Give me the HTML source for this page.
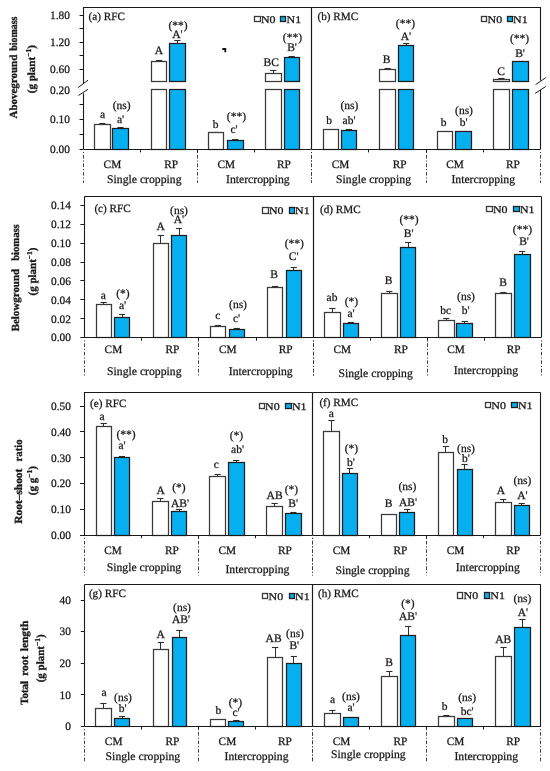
<!DOCTYPE html>
<html><head><meta charset="utf-8"><style>
text{stroke:#111;stroke-width:0.25px;text-rendering:geometricPrecision}
html,body{margin:0;padding:0;background:#fff;width:550px;height:771px;overflow:hidden}
svg{display:block;filter:blur(0.28px)}
text{font-family:"Liberation Serif",serif}
</style></head><body>
<svg width="550" height="771" viewBox="0 0 550 771" font-family="Liberation Serif, serif" fill="#1a1a1a">
<rect x="0" y="0" width="550" height="771" fill="#fff"/>
<line x1="102.50" y1="123.40" x2="102.50" y2="124.60" stroke="#2e2e2e" stroke-width="1.0" />
<line x1="99.30" y1="123.50" x2="105.50" y2="123.50" stroke="#2e2e2e" stroke-width="1.1" />
<rect x="94.50" y="124.50" width="16.00" height="25.00" fill="#fff" stroke="#3a3a3a" stroke-width="1.25"/>
<line x1="120.50" y1="127.60" x2="120.50" y2="128.50" stroke="#2e2e2e" stroke-width="1.0" />
<line x1="117.40" y1="127.50" x2="123.60" y2="127.50" stroke="#2e2e2e" stroke-width="1.1" />
<rect x="112.50" y="128.50" width="16.00" height="21.00" fill="#06AFF0" stroke="#1e1e1e" stroke-width="1.25"/>
<line x1="159.50" y1="60.60" x2="159.50" y2="61.60" stroke="#2e2e2e" stroke-width="1.0" />
<line x1="156.00" y1="60.50" x2="162.20" y2="60.50" stroke="#2e2e2e" stroke-width="1.1" />
<rect x="151.50" y="61.50" width="15.00" height="20.00" fill="#fff" stroke="#3a3a3a" stroke-width="1.25"/>
<rect x="151.50" y="89.50" width="15.00" height="60.00" fill="#fff" stroke="#3a3a3a" stroke-width="1.25"/>
<line x1="177.50" y1="40.00" x2="177.50" y2="43.60" stroke="#2e2e2e" stroke-width="1.0" />
<line x1="174.30" y1="40.50" x2="180.50" y2="40.50" stroke="#2e2e2e" stroke-width="1.1" />
<rect x="169.50" y="43.50" width="16.00" height="38.00" fill="#06AFF0" stroke="#1e1e1e" stroke-width="1.25"/>
<rect x="169.50" y="89.50" width="16.00" height="60.00" fill="#06AFF0" stroke="#1e1e1e" stroke-width="1.25"/>
<line x1="215.50" y1="132.20" x2="215.50" y2="132.70" stroke="#2e2e2e" stroke-width="1.0" />
<line x1="212.85" y1="132.50" x2="219.05" y2="132.50" stroke="#2e2e2e" stroke-width="1.1" />
<rect x="208.50" y="132.50" width="15.00" height="17.00" fill="#fff" stroke="#3a3a3a" stroke-width="1.25"/>
<line x1="235.50" y1="139.00" x2="235.50" y2="140.00" stroke="#2e2e2e" stroke-width="1.0" />
<line x1="232.10" y1="139.50" x2="238.30" y2="139.50" stroke="#2e2e2e" stroke-width="1.1" />
<rect x="227.50" y="140.50" width="16.00" height="9.00" fill="#06AFF0" stroke="#1e1e1e" stroke-width="1.25"/>
<line x1="273.50" y1="70.80" x2="273.50" y2="73.60" stroke="#2e2e2e" stroke-width="1.0" />
<line x1="270.20" y1="70.50" x2="276.40" y2="70.50" stroke="#2e2e2e" stroke-width="1.1" />
<rect x="265.50" y="73.50" width="16.00" height="8.00" fill="#fff" stroke="#3a3a3a" stroke-width="1.25"/>
<rect x="265.50" y="89.50" width="16.00" height="60.00" fill="#fff" stroke="#3a3a3a" stroke-width="1.25"/>
<line x1="291.50" y1="56.40" x2="291.50" y2="57.40" stroke="#2e2e2e" stroke-width="1.0" />
<line x1="288.60" y1="56.50" x2="294.80" y2="56.50" stroke="#2e2e2e" stroke-width="1.1" />
<rect x="284.50" y="57.50" width="15.00" height="24.00" fill="#06AFF0" stroke="#1e1e1e" stroke-width="1.25"/>
<rect x="284.50" y="89.50" width="15.00" height="60.00" fill="#06AFF0" stroke="#1e1e1e" stroke-width="1.25"/>
<line x1="83.50" y1="7.50" x2="311.50" y2="7.50" stroke="#1a1a1a" stroke-width="1.1" />
<line x1="311.50" y1="7.00" x2="311.50" y2="149.20" stroke="#1a1a1a" stroke-width="1.1" />
<line x1="83.50" y1="149.50" x2="311.50" y2="149.50" stroke="#1a1a1a" stroke-width="1.1" />
<line x1="140.50" y1="149.20" x2="140.50" y2="152.40" stroke="#1a1a1a" stroke-width="1.0" />
<line x1="197.50" y1="149.20" x2="197.50" y2="152.40" stroke="#1a1a1a" stroke-width="1.0" />
<line x1="254.50" y1="149.20" x2="254.50" y2="152.40" stroke="#1a1a1a" stroke-width="1.0" />
<line x1="83.50" y1="152.00" x2="83.50" y2="183.00" stroke="#3a3a3a" stroke-width="0.95" stroke-dasharray="1.2 1.8 3.6 1.9"/>
<line x1="197.50" y1="152.00" x2="197.50" y2="183.00" stroke="#3a3a3a" stroke-width="0.95" stroke-dasharray="1.2 1.8 3.6 1.9"/>
<line x1="311.50" y1="152.00" x2="311.50" y2="183.00" stroke="#3a3a3a" stroke-width="0.95" stroke-dasharray="1.2 1.8 3.6 1.9"/>
<text x="112.40" y="167.60" font-size="11.3" text-anchor="middle" font-weight="normal" >CM</text>
<text x="171.20" y="167.60" font-size="11.3" text-anchor="middle" font-weight="normal" >RP</text>
<text x="226.30" y="167.60" font-size="11.3" text-anchor="middle" font-weight="normal" >CM</text>
<text x="283.90" y="167.60" font-size="11.3" text-anchor="middle" font-weight="normal" >RP</text>
<text x="107.00" y="183.30" font-size="11.7" text-anchor="start" font-weight="normal" textLength="74.5" lengthAdjust="spacing">Single cropping</text>
<text x="226.00" y="183.30" font-size="11.7" text-anchor="start" font-weight="normal" textLength="63.6" lengthAdjust="spacing">Intercropping</text>
<line x1="83.50" y1="7.00" x2="83.50" y2="83.50" stroke="#1a1a1a" stroke-width="1.1" />
<line x1="83.50" y1="93.30" x2="83.50" y2="149.20" stroke="#1a1a1a" stroke-width="1.1" />
<line x1="79.50" y1="15.50" x2="83.50" y2="15.50" stroke="#1a1a1a" stroke-width="1.0" />
<text x="70.00" y="19.30" font-size="11.4" text-anchor="end" font-weight="normal" >1.80</text>
<line x1="79.50" y1="42.50" x2="83.50" y2="42.50" stroke="#1a1a1a" stroke-width="1.0" />
<text x="70.00" y="46.10" font-size="11.4" text-anchor="end" font-weight="normal" >1.20</text>
<line x1="79.50" y1="69.50" x2="83.50" y2="69.50" stroke="#1a1a1a" stroke-width="1.0" />
<text x="70.00" y="72.90" font-size="11.4" text-anchor="end" font-weight="normal" >0.60</text>
<line x1="79.50" y1="119.50" x2="83.50" y2="119.50" stroke="#1a1a1a" stroke-width="1.0" />
<text x="70.00" y="123.40" font-size="11.4" text-anchor="end" font-weight="normal" >0.10</text>
<line x1="79.50" y1="149.50" x2="83.50" y2="149.50" stroke="#1a1a1a" stroke-width="1.0" />
<text x="70.00" y="153.10" font-size="11.4" text-anchor="end" font-weight="normal" >0.00</text>
<text x="70.00" y="94.20" font-size="11.4" text-anchor="end" font-weight="normal" >0.20</text>
<line x1="79.50" y1="28.50" x2="83.50" y2="28.50" stroke="#1a1a1a" stroke-width="1.0" />
<line x1="79.50" y1="55.50" x2="83.50" y2="55.50" stroke="#1a1a1a" stroke-width="1.0" />
<line x1="79.50" y1="104.50" x2="83.50" y2="104.50" stroke="#1a1a1a" stroke-width="1.0" />
<line x1="79.50" y1="134.50" x2="83.50" y2="134.50" stroke="#1a1a1a" stroke-width="1.0" />
<text x="88.60" y="20.30" font-size="11.2" text-anchor="start" font-weight="normal" >(a) RFC</text>
<rect x="254.50" y="16.50" width="6.00" height="5.00" fill="#fff" stroke="#3a3a3a" stroke-width="1.3"/>
<text x="260.90" y="22.60" font-size="10.2" text-anchor="start" font-weight="normal" textLength="14.6" lengthAdjust="spacingAndGlyphs">N0</text>
<rect x="280.50" y="16.50" width="5.00" height="5.00" fill="#06AFF0" stroke="#1e1e1e" stroke-width="1.3"/>
<text x="286.50" y="22.60" font-size="10.2" text-anchor="start" font-weight="normal" textLength="14.6" lengthAdjust="spacingAndGlyphs">N1</text>
<text x="102.60" y="117.60" font-size="11.5" text-anchor="middle" font-weight="normal" >a</text>
<text x="120.60" y="123.00" font-size="11.5" text-anchor="middle" font-weight="normal" >a'</text>
<text x="121.60" y="108.60" font-size="11.5" text-anchor="middle" font-weight="normal" >(ns)</text>
<text x="159.00" y="54.40" font-size="11.5" text-anchor="middle" font-weight="normal" >A</text>
<text x="177.40" y="38.00" font-size="11.5" text-anchor="middle" font-weight="normal" >A'</text>
<text x="178.00" y="28.60" font-size="11.5" text-anchor="middle" font-weight="normal" >(**)</text>
<text x="215.70" y="127.70" font-size="11.5" text-anchor="middle" font-weight="normal" >b</text>
<text x="234.00" y="133.20" font-size="11.5" text-anchor="middle" font-weight="normal" >c'</text>
<text x="236.40" y="120.10" font-size="11.5" text-anchor="middle" font-weight="normal" >(**)</text>
<text x="271.20" y="66.00" font-size="11.5" text-anchor="middle" font-weight="normal" >BC</text>
<text x="292.00" y="51.00" font-size="11.5" text-anchor="middle" font-weight="normal" >B'</text>
<text x="292.40" y="40.60" font-size="11.5" text-anchor="middle" font-weight="normal" >(**)</text>
<rect x="323.50" y="129.50" width="15.00" height="20.00" fill="#fff" stroke="#3a3a3a" stroke-width="1.25"/>
<line x1="348.50" y1="129.40" x2="348.50" y2="130.00" stroke="#2e2e2e" stroke-width="1.0" />
<line x1="345.80" y1="129.50" x2="352.00" y2="129.50" stroke="#2e2e2e" stroke-width="1.1" />
<rect x="341.50" y="130.50" width="15.00" height="19.00" fill="#06AFF0" stroke="#1e1e1e" stroke-width="1.25"/>
<line x1="387.50" y1="68.00" x2="387.50" y2="69.60" stroke="#2e2e2e" stroke-width="1.0" />
<line x1="384.55" y1="68.50" x2="390.75" y2="68.50" stroke="#2e2e2e" stroke-width="1.1" />
<rect x="379.50" y="69.50" width="16.00" height="12.00" fill="#fff" stroke="#3a3a3a" stroke-width="1.25"/>
<rect x="379.50" y="89.50" width="16.00" height="60.00" fill="#fff" stroke="#3a3a3a" stroke-width="1.25"/>
<line x1="406.50" y1="43.60" x2="406.50" y2="45.00" stroke="#2e2e2e" stroke-width="1.0" />
<line x1="403.05" y1="43.50" x2="409.25" y2="43.50" stroke="#2e2e2e" stroke-width="1.1" />
<rect x="398.50" y="45.50" width="15.00" height="36.00" fill="#06AFF0" stroke="#1e1e1e" stroke-width="1.25"/>
<rect x="398.50" y="89.50" width="15.00" height="60.00" fill="#06AFF0" stroke="#1e1e1e" stroke-width="1.25"/>
<line x1="445.50" y1="131.20" x2="445.50" y2="131.60" stroke="#2e2e2e" stroke-width="1.0" />
<line x1="441.90" y1="131.50" x2="448.10" y2="131.50" stroke="#2e2e2e" stroke-width="1.1" />
<rect x="437.50" y="131.50" width="15.00" height="18.00" fill="#fff" stroke="#3a3a3a" stroke-width="1.25"/>
<line x1="463.50" y1="131.20" x2="463.50" y2="131.60" stroke="#2e2e2e" stroke-width="1.0" />
<line x1="460.30" y1="131.50" x2="466.50" y2="131.50" stroke="#2e2e2e" stroke-width="1.1" />
<rect x="455.50" y="131.50" width="16.00" height="18.00" fill="#06AFF0" stroke="#1e1e1e" stroke-width="1.25"/>
<line x1="501.50" y1="78.60" x2="501.50" y2="79.00" stroke="#2e2e2e" stroke-width="1.0" />
<line x1="498.30" y1="78.50" x2="504.50" y2="78.50" stroke="#2e2e2e" stroke-width="1.1" />
<rect x="493.50" y="79.50" width="16.00" height="2.00" fill="#fff" stroke="#3a3a3a" stroke-width="1.25"/>
<rect x="493.50" y="89.50" width="16.00" height="60.00" fill="#fff" stroke="#3a3a3a" stroke-width="1.25"/>
<line x1="520.50" y1="61.00" x2="520.50" y2="61.50" stroke="#2e2e2e" stroke-width="1.0" />
<line x1="517.50" y1="61.50" x2="523.70" y2="61.50" stroke="#2e2e2e" stroke-width="1.1" />
<rect x="512.50" y="61.50" width="16.00" height="20.00" fill="#06AFF0" stroke="#1e1e1e" stroke-width="1.25"/>
<rect x="512.50" y="89.50" width="16.00" height="60.00" fill="#06AFF0" stroke="#1e1e1e" stroke-width="1.25"/>
<line x1="311.50" y1="7.50" x2="540.60" y2="7.50" stroke="#1a1a1a" stroke-width="1.1" />
<line x1="540.50" y1="7.00" x2="540.50" y2="149.20" stroke="#1a1a1a" stroke-width="1.1" />
<line x1="311.50" y1="149.50" x2="540.60" y2="149.50" stroke="#1a1a1a" stroke-width="1.1" />
<line x1="368.50" y1="149.20" x2="368.50" y2="152.40" stroke="#1a1a1a" stroke-width="1.0" />
<line x1="426.50" y1="149.20" x2="426.50" y2="152.40" stroke="#1a1a1a" stroke-width="1.0" />
<line x1="483.50" y1="149.20" x2="483.50" y2="152.40" stroke="#1a1a1a" stroke-width="1.0" />
<line x1="311.50" y1="152.00" x2="311.50" y2="183.00" stroke="#3a3a3a" stroke-width="0.95" stroke-dasharray="1.2 1.8 3.6 1.9"/>
<line x1="426.50" y1="152.00" x2="426.50" y2="183.00" stroke="#3a3a3a" stroke-width="0.95" stroke-dasharray="1.2 1.8 3.6 1.9"/>
<line x1="540.50" y1="152.00" x2="540.50" y2="183.00" stroke="#3a3a3a" stroke-width="0.95" stroke-dasharray="1.2 1.8 3.6 1.9"/>
<text x="340.54" y="167.60" font-size="11.3" text-anchor="middle" font-weight="normal" >CM</text>
<text x="399.61" y="167.60" font-size="11.3" text-anchor="middle" font-weight="normal" >RP</text>
<text x="454.99" y="167.60" font-size="11.3" text-anchor="middle" font-weight="normal" >CM</text>
<text x="512.86" y="167.60" font-size="11.3" text-anchor="middle" font-weight="normal" >RP</text>
<text x="336.00" y="183.30" font-size="11.7" text-anchor="start" font-weight="normal" textLength="75" lengthAdjust="spacing">Single cropping</text>
<text x="451.40" y="183.30" font-size="11.7" text-anchor="start" font-weight="normal" textLength="63.6" lengthAdjust="spacing">Intercropping</text>
<line x1="311.50" y1="7.00" x2="311.50" y2="149.20" stroke="#1a1a1a" stroke-width="1.1" />
<text x="317.50" y="20.30" font-size="11.2" text-anchor="start" font-weight="normal" >(b) RMC</text>
<rect x="481.50" y="16.50" width="5.00" height="5.00" fill="#fff" stroke="#3a3a3a" stroke-width="1.3"/>
<text x="487.50" y="22.60" font-size="10.2" text-anchor="start" font-weight="normal" textLength="14.6" lengthAdjust="spacingAndGlyphs">N0</text>
<rect x="507.50" y="16.50" width="5.00" height="5.00" fill="#06AFF0" stroke="#1e1e1e" stroke-width="1.3"/>
<text x="513.10" y="22.60" font-size="10.2" text-anchor="start" font-weight="normal" textLength="14.6" lengthAdjust="spacingAndGlyphs">N1</text>
<text x="329.00" y="124.00" font-size="11.5" text-anchor="middle" font-weight="normal" >b</text>
<text x="349.00" y="124.00" font-size="11.5" text-anchor="middle" font-weight="normal" >ab'</text>
<text x="349.40" y="108.60" font-size="11.5" text-anchor="middle" font-weight="normal" >(ns)</text>
<text x="386.60" y="63.00" font-size="11.5" text-anchor="middle" font-weight="normal" >B</text>
<text x="406.00" y="40.00" font-size="11.5" text-anchor="middle" font-weight="normal" >A'</text>
<text x="405.40" y="26.60" font-size="11.5" text-anchor="middle" font-weight="normal" >(**)</text>
<text x="443.60" y="126.00" font-size="11.5" text-anchor="middle" font-weight="normal" >b</text>
<text x="463.60" y="126.00" font-size="11.5" text-anchor="middle" font-weight="normal" >b'</text>
<text x="464.00" y="113.60" font-size="11.5" text-anchor="middle" font-weight="normal" >(ns)</text>
<text x="501.00" y="75.00" font-size="11.5" text-anchor="middle" font-weight="normal" >C</text>
<text x="520.00" y="57.00" font-size="11.5" text-anchor="middle" font-weight="normal" >B'</text>
<text x="519.60" y="41.60" font-size="11.5" text-anchor="middle" font-weight="normal" >(**)</text>
<line x1="103.50" y1="302.60" x2="103.50" y2="304.40" stroke="#2e2e2e" stroke-width="1.0" />
<line x1="100.60" y1="302.50" x2="106.80" y2="302.50" stroke="#2e2e2e" stroke-width="1.1" />
<rect x="96.50" y="304.50" width="15.00" height="33.00" fill="#fff" stroke="#3a3a3a" stroke-width="1.25"/>
<line x1="122.50" y1="314.60" x2="122.50" y2="317.40" stroke="#2e2e2e" stroke-width="1.0" />
<line x1="118.90" y1="314.50" x2="125.10" y2="314.50" stroke="#2e2e2e" stroke-width="1.1" />
<rect x="114.50" y="317.50" width="15.00" height="20.00" fill="#06AFF0" stroke="#1e1e1e" stroke-width="1.25"/>
<line x1="160.50" y1="235.00" x2="160.50" y2="243.60" stroke="#2e2e2e" stroke-width="1.0" />
<line x1="157.80" y1="235.50" x2="164.00" y2="235.50" stroke="#2e2e2e" stroke-width="1.1" />
<rect x="153.50" y="243.50" width="15.00" height="94.00" fill="#fff" stroke="#3a3a3a" stroke-width="1.25"/>
<line x1="179.50" y1="228.60" x2="179.50" y2="235.00" stroke="#2e2e2e" stroke-width="1.0" />
<line x1="175.90" y1="228.50" x2="182.10" y2="228.50" stroke="#2e2e2e" stroke-width="1.1" />
<rect x="171.50" y="235.50" width="15.00" height="102.00" fill="#06AFF0" stroke="#1e1e1e" stroke-width="1.25"/>
<line x1="217.50" y1="325.50" x2="217.50" y2="326.10" stroke="#2e2e2e" stroke-width="1.0" />
<line x1="214.80" y1="325.50" x2="221.00" y2="325.50" stroke="#2e2e2e" stroke-width="1.1" />
<rect x="210.50" y="326.50" width="15.00" height="11.00" fill="#fff" stroke="#3a3a3a" stroke-width="1.25"/>
<line x1="236.50" y1="328.50" x2="236.50" y2="329.00" stroke="#2e2e2e" stroke-width="1.0" />
<line x1="233.65" y1="328.50" x2="239.85" y2="328.50" stroke="#2e2e2e" stroke-width="1.1" />
<rect x="229.50" y="329.50" width="15.00" height="8.00" fill="#06AFF0" stroke="#1e1e1e" stroke-width="1.25"/>
<line x1="275.50" y1="286.00" x2="275.50" y2="287.70" stroke="#2e2e2e" stroke-width="1.0" />
<line x1="271.95" y1="286.50" x2="278.15" y2="286.50" stroke="#2e2e2e" stroke-width="1.1" />
<rect x="267.50" y="287.50" width="15.00" height="50.00" fill="#fff" stroke="#3a3a3a" stroke-width="1.25"/>
<line x1="293.50" y1="267.20" x2="293.50" y2="270.30" stroke="#2e2e2e" stroke-width="1.0" />
<line x1="290.65" y1="267.50" x2="296.85" y2="267.50" stroke="#2e2e2e" stroke-width="1.1" />
<rect x="286.50" y="270.50" width="15.00" height="67.00" fill="#06AFF0" stroke="#1e1e1e" stroke-width="1.25"/>
<line x1="84.40" y1="196.50" x2="313.30" y2="196.50" stroke="#1a1a1a" stroke-width="1.1" />
<line x1="313.50" y1="196.40" x2="313.50" y2="337.50" stroke="#1a1a1a" stroke-width="1.1" />
<line x1="84.40" y1="337.50" x2="313.30" y2="337.50" stroke="#1a1a1a" stroke-width="1.1" />
<line x1="141.50" y1="337.50" x2="141.50" y2="340.70" stroke="#1a1a1a" stroke-width="1.0" />
<line x1="198.50" y1="337.50" x2="198.50" y2="340.70" stroke="#1a1a1a" stroke-width="1.0" />
<line x1="256.50" y1="337.50" x2="256.50" y2="340.70" stroke="#1a1a1a" stroke-width="1.0" />
<line x1="84.50" y1="340.30" x2="84.50" y2="376.50" stroke="#3a3a3a" stroke-width="0.95" stroke-dasharray="1.2 1.8 3.6 1.9"/>
<line x1="198.50" y1="340.30" x2="198.50" y2="376.50" stroke="#3a3a3a" stroke-width="0.95" stroke-dasharray="1.2 1.8 3.6 1.9"/>
<line x1="313.50" y1="340.30" x2="313.50" y2="376.50" stroke="#3a3a3a" stroke-width="0.95" stroke-dasharray="1.2 1.8 3.6 1.9"/>
<text x="113.41" y="352.50" font-size="11.3" text-anchor="middle" font-weight="normal" >CM</text>
<text x="172.44" y="352.50" font-size="11.3" text-anchor="middle" font-weight="normal" >RP</text>
<text x="227.76" y="352.50" font-size="11.3" text-anchor="middle" font-weight="normal" >CM</text>
<text x="285.59" y="352.50" font-size="11.3" text-anchor="middle" font-weight="normal" >RP</text>
<text x="107.00" y="374.50" font-size="11.7" text-anchor="start" font-weight="normal" textLength="74.5" lengthAdjust="spacing">Single cropping</text>
<text x="228.70" y="375.40" font-size="11.7" text-anchor="start" font-weight="normal" textLength="64" lengthAdjust="spacing">Intercropping</text>
<line x1="84.50" y1="196.40" x2="84.50" y2="337.50" stroke="#1a1a1a" stroke-width="1.1" />
<line x1="80.40" y1="337.50" x2="84.40" y2="337.50" stroke="#1a1a1a" stroke-width="1.0" />
<text x="71.00" y="341.40" font-size="11.4" text-anchor="end" font-weight="normal" >0.00</text>
<line x1="80.40" y1="318.50" x2="84.40" y2="318.50" stroke="#1a1a1a" stroke-width="1.0" />
<text x="71.00" y="322.55" font-size="11.4" text-anchor="end" font-weight="normal" >0.02</text>
<line x1="80.40" y1="299.50" x2="84.40" y2="299.50" stroke="#1a1a1a" stroke-width="1.0" />
<text x="71.00" y="303.70" font-size="11.4" text-anchor="end" font-weight="normal" >0.04</text>
<line x1="80.40" y1="280.50" x2="84.40" y2="280.50" stroke="#1a1a1a" stroke-width="1.0" />
<text x="71.00" y="284.85" font-size="11.4" text-anchor="end" font-weight="normal" >0.06</text>
<line x1="80.40" y1="262.50" x2="84.40" y2="262.50" stroke="#1a1a1a" stroke-width="1.0" />
<text x="71.00" y="266.00" font-size="11.4" text-anchor="end" font-weight="normal" >0.08</text>
<line x1="80.40" y1="243.50" x2="84.40" y2="243.50" stroke="#1a1a1a" stroke-width="1.0" />
<text x="71.00" y="247.15" font-size="11.4" text-anchor="end" font-weight="normal" >0.10</text>
<line x1="80.40" y1="224.50" x2="84.40" y2="224.50" stroke="#1a1a1a" stroke-width="1.0" />
<text x="71.00" y="228.30" font-size="11.4" text-anchor="end" font-weight="normal" >0.12</text>
<line x1="80.40" y1="205.50" x2="84.40" y2="205.50" stroke="#1a1a1a" stroke-width="1.0" />
<text x="71.00" y="209.45" font-size="11.4" text-anchor="end" font-weight="normal" >0.14</text>
<text x="94.40" y="211.60" font-size="11.2" text-anchor="start" font-weight="normal" >(c) RFC</text>
<rect x="262.50" y="207.50" width="6.00" height="6.00" fill="#fff" stroke="#3a3a3a" stroke-width="1.3"/>
<text x="268.90" y="214.10" font-size="10.2" text-anchor="start" font-weight="normal" textLength="14.6" lengthAdjust="spacingAndGlyphs">N0</text>
<rect x="289.50" y="207.50" width="5.00" height="6.00" fill="#06AFF0" stroke="#1e1e1e" stroke-width="1.3"/>
<text x="295.10" y="214.10" font-size="10.2" text-anchor="start" font-weight="normal" textLength="14.6" lengthAdjust="spacingAndGlyphs">N1</text>
<text x="103.40" y="299.00" font-size="11.5" text-anchor="middle" font-weight="normal" >a</text>
<text x="122.60" y="308.60" font-size="11.5" text-anchor="middle" font-weight="normal" >a'</text>
<text x="123.00" y="296.60" font-size="11.5" text-anchor="middle" font-weight="normal" >(*)</text>
<text x="160.60" y="230.00" font-size="11.5" text-anchor="middle" font-weight="normal" >A</text>
<text x="179.00" y="223.00" font-size="11.5" text-anchor="middle" font-weight="normal" >A'</text>
<text x="179.00" y="213.60" font-size="11.5" text-anchor="middle" font-weight="normal" >(ns)</text>
<text x="217.90" y="318.90" font-size="11.5" text-anchor="middle" font-weight="normal" >c</text>
<text x="236.50" y="321.80" font-size="11.5" text-anchor="middle" font-weight="normal" >c'</text>
<text x="238.00" y="308.30" font-size="11.5" text-anchor="middle" font-weight="normal" >(ns)</text>
<text x="274.00" y="277.50" font-size="11.5" text-anchor="middle" font-weight="normal" >B</text>
<text x="293.60" y="260.00" font-size="11.5" text-anchor="middle" font-weight="normal" >C'</text>
<text x="294.30" y="246.50" font-size="11.5" text-anchor="middle" font-weight="normal" >(**)</text>
<line x1="332.50" y1="308.40" x2="332.50" y2="312.20" stroke="#2e2e2e" stroke-width="1.0" />
<line x1="329.25" y1="308.50" x2="335.45" y2="308.50" stroke="#2e2e2e" stroke-width="1.1" />
<rect x="324.50" y="312.50" width="16.00" height="25.00" fill="#fff" stroke="#3a3a3a" stroke-width="1.25"/>
<line x1="350.50" y1="322.00" x2="350.50" y2="323.00" stroke="#2e2e2e" stroke-width="1.0" />
<line x1="347.75" y1="322.50" x2="353.95" y2="322.50" stroke="#2e2e2e" stroke-width="1.1" />
<rect x="343.50" y="323.50" width="15.00" height="14.00" fill="#06AFF0" stroke="#1e1e1e" stroke-width="1.25"/>
<line x1="389.50" y1="291.00" x2="389.50" y2="293.30" stroke="#2e2e2e" stroke-width="1.0" />
<line x1="386.20" y1="291.50" x2="392.40" y2="291.50" stroke="#2e2e2e" stroke-width="1.1" />
<rect x="381.50" y="293.50" width="16.00" height="44.00" fill="#fff" stroke="#3a3a3a" stroke-width="1.25"/>
<line x1="408.50" y1="242.50" x2="408.50" y2="247.20" stroke="#2e2e2e" stroke-width="1.0" />
<line x1="405.00" y1="242.50" x2="411.20" y2="242.50" stroke="#2e2e2e" stroke-width="1.1" />
<rect x="400.50" y="247.50" width="15.00" height="90.00" fill="#06AFF0" stroke="#1e1e1e" stroke-width="1.25"/>
<line x1="446.50" y1="318.40" x2="446.50" y2="320.10" stroke="#2e2e2e" stroke-width="1.0" />
<line x1="443.10" y1="318.50" x2="449.30" y2="318.50" stroke="#2e2e2e" stroke-width="1.1" />
<rect x="438.50" y="320.50" width="16.00" height="17.00" fill="#fff" stroke="#3a3a3a" stroke-width="1.25"/>
<line x1="464.50" y1="321.60" x2="464.50" y2="323.60" stroke="#2e2e2e" stroke-width="1.0" />
<line x1="461.65" y1="321.50" x2="467.85" y2="321.50" stroke="#2e2e2e" stroke-width="1.1" />
<rect x="456.50" y="323.50" width="16.00" height="14.00" fill="#06AFF0" stroke="#1e1e1e" stroke-width="1.25"/>
<line x1="503.50" y1="292.00" x2="503.50" y2="293.60" stroke="#2e2e2e" stroke-width="1.0" />
<line x1="500.35" y1="292.50" x2="506.55" y2="292.50" stroke="#2e2e2e" stroke-width="1.1" />
<rect x="495.50" y="293.50" width="16.00" height="44.00" fill="#fff" stroke="#3a3a3a" stroke-width="1.25"/>
<line x1="522.50" y1="251.00" x2="522.50" y2="254.40" stroke="#2e2e2e" stroke-width="1.0" />
<line x1="519.00" y1="251.50" x2="525.20" y2="251.50" stroke="#2e2e2e" stroke-width="1.1" />
<rect x="514.50" y="254.50" width="16.00" height="83.00" fill="#06AFF0" stroke="#1e1e1e" stroke-width="1.25"/>
<line x1="313.30" y1="196.50" x2="541.20" y2="196.50" stroke="#1a1a1a" stroke-width="1.1" />
<line x1="541.50" y1="196.40" x2="541.50" y2="337.50" stroke="#1a1a1a" stroke-width="1.1" />
<line x1="313.30" y1="337.50" x2="541.20" y2="337.50" stroke="#1a1a1a" stroke-width="1.1" />
<line x1="370.50" y1="337.50" x2="370.50" y2="340.70" stroke="#1a1a1a" stroke-width="1.0" />
<line x1="427.50" y1="337.50" x2="427.50" y2="340.70" stroke="#1a1a1a" stroke-width="1.0" />
<line x1="484.50" y1="337.50" x2="484.50" y2="340.70" stroke="#1a1a1a" stroke-width="1.0" />
<line x1="313.50" y1="340.30" x2="313.50" y2="376.50" stroke="#3a3a3a" stroke-width="0.95" stroke-dasharray="1.2 1.8 3.6 1.9"/>
<line x1="427.50" y1="340.30" x2="427.50" y2="376.50" stroke="#3a3a3a" stroke-width="0.95" stroke-dasharray="1.2 1.8 3.6 1.9"/>
<line x1="541.50" y1="340.30" x2="541.50" y2="376.50" stroke="#3a3a3a" stroke-width="0.95" stroke-dasharray="1.2 1.8 3.6 1.9"/>
<text x="342.19" y="352.50" font-size="11.3" text-anchor="middle" font-weight="normal" >CM</text>
<text x="400.96" y="352.50" font-size="11.3" text-anchor="middle" font-weight="normal" >RP</text>
<text x="456.04" y="352.50" font-size="11.3" text-anchor="middle" font-weight="normal" >CM</text>
<text x="513.61" y="352.50" font-size="11.3" text-anchor="middle" font-weight="normal" >RP</text>
<text x="338.40" y="376.50" font-size="11.7" text-anchor="start" font-weight="normal" textLength="74.4" lengthAdjust="spacing">Single cropping</text>
<text x="453.70" y="373.70" font-size="11.7" text-anchor="start" font-weight="normal" textLength="64.3" lengthAdjust="spacing">Intercropping</text>
<line x1="313.50" y1="196.40" x2="313.50" y2="337.50" stroke="#1a1a1a" stroke-width="1.1" />
<text x="320.00" y="212.70" font-size="11.2" text-anchor="start" font-weight="normal" >(d) RMC</text>
<rect x="486.50" y="206.50" width="6.00" height="5.00" fill="#fff" stroke="#3a3a3a" stroke-width="1.3"/>
<text x="492.90" y="212.60" font-size="10.2" text-anchor="start" font-weight="normal" textLength="14.6" lengthAdjust="spacingAndGlyphs">N0</text>
<rect x="513.50" y="206.50" width="6.00" height="5.00" fill="#06AFF0" stroke="#1e1e1e" stroke-width="1.3"/>
<text x="519.90" y="212.60" font-size="10.2" text-anchor="start" font-weight="normal" textLength="14.6" lengthAdjust="spacingAndGlyphs">N1</text>
<text x="332.00" y="301.00" font-size="11.5" text-anchor="middle" font-weight="normal" >ab</text>
<text x="351.00" y="317.00" font-size="11.5" text-anchor="middle" font-weight="normal" >a'</text>
<text x="351.40" y="304.60" font-size="11.5" text-anchor="middle" font-weight="normal" >(*)</text>
<text x="388.60" y="284.00" font-size="11.5" text-anchor="middle" font-weight="normal" >B</text>
<text x="408.60" y="237.00" font-size="11.5" text-anchor="middle" font-weight="normal" >B'</text>
<text x="409.00" y="223.20" font-size="11.5" text-anchor="middle" font-weight="normal" >(**)</text>
<text x="445.60" y="313.60" font-size="11.5" text-anchor="middle" font-weight="normal" >bc</text>
<text x="465.60" y="314.00" font-size="11.5" text-anchor="middle" font-weight="normal" >b'</text>
<text x="466.00" y="299.60" font-size="11.5" text-anchor="middle" font-weight="normal" >(ns)</text>
<text x="503.00" y="286.00" font-size="11.5" text-anchor="middle" font-weight="normal" >B</text>
<text x="524.00" y="245.00" font-size="11.5" text-anchor="middle" font-weight="normal" >B'</text>
<text x="522.40" y="232.60" font-size="11.5" text-anchor="middle" font-weight="normal" >(**)</text>
<line x1="103.50" y1="423.80" x2="103.50" y2="426.50" stroke="#2e2e2e" stroke-width="1.0" />
<line x1="100.60" y1="423.50" x2="106.80" y2="423.50" stroke="#2e2e2e" stroke-width="1.1" />
<rect x="96.50" y="426.50" width="15.00" height="109.00" fill="#fff" stroke="#3a3a3a" stroke-width="1.25"/>
<line x1="121.50" y1="456.60" x2="121.50" y2="457.20" stroke="#2e2e2e" stroke-width="1.0" />
<line x1="118.85" y1="456.50" x2="125.05" y2="456.50" stroke="#2e2e2e" stroke-width="1.1" />
<rect x="114.50" y="457.50" width="15.00" height="78.00" fill="#06AFF0" stroke="#1e1e1e" stroke-width="1.25"/>
<line x1="160.50" y1="498.40" x2="160.50" y2="501.50" stroke="#2e2e2e" stroke-width="1.0" />
<line x1="157.20" y1="498.50" x2="163.40" y2="498.50" stroke="#2e2e2e" stroke-width="1.1" />
<rect x="152.50" y="501.50" width="16.00" height="34.00" fill="#fff" stroke="#3a3a3a" stroke-width="1.25"/>
<line x1="179.50" y1="509.60" x2="179.50" y2="511.00" stroke="#2e2e2e" stroke-width="1.0" />
<line x1="175.90" y1="509.50" x2="182.10" y2="509.50" stroke="#2e2e2e" stroke-width="1.1" />
<rect x="171.50" y="511.50" width="15.00" height="24.00" fill="#06AFF0" stroke="#1e1e1e" stroke-width="1.25"/>
<line x1="217.50" y1="474.00" x2="217.50" y2="476.50" stroke="#2e2e2e" stroke-width="1.0" />
<line x1="214.55" y1="474.50" x2="220.75" y2="474.50" stroke="#2e2e2e" stroke-width="1.1" />
<rect x="209.50" y="476.50" width="16.00" height="59.00" fill="#fff" stroke="#3a3a3a" stroke-width="1.25"/>
<line x1="236.50" y1="460.00" x2="236.50" y2="462.50" stroke="#2e2e2e" stroke-width="1.0" />
<line x1="233.05" y1="460.50" x2="239.25" y2="460.50" stroke="#2e2e2e" stroke-width="1.1" />
<rect x="228.50" y="462.50" width="16.00" height="73.00" fill="#06AFF0" stroke="#1e1e1e" stroke-width="1.25"/>
<line x1="274.50" y1="503.00" x2="274.50" y2="506.50" stroke="#2e2e2e" stroke-width="1.0" />
<line x1="271.50" y1="503.50" x2="277.70" y2="503.50" stroke="#2e2e2e" stroke-width="1.1" />
<rect x="266.50" y="506.50" width="16.00" height="29.00" fill="#fff" stroke="#3a3a3a" stroke-width="1.25"/>
<line x1="293.50" y1="512.80" x2="293.50" y2="513.60" stroke="#2e2e2e" stroke-width="1.0" />
<line x1="290.30" y1="512.50" x2="296.50" y2="512.50" stroke="#2e2e2e" stroke-width="1.1" />
<rect x="285.50" y="513.50" width="16.00" height="22.00" fill="#06AFF0" stroke="#1e1e1e" stroke-width="1.25"/>
<line x1="84.00" y1="392.50" x2="312.60" y2="392.50" stroke="#1a1a1a" stroke-width="1.1" />
<line x1="312.50" y1="392.80" x2="312.50" y2="535.00" stroke="#1a1a1a" stroke-width="1.1" />
<line x1="84.00" y1="535.50" x2="312.60" y2="535.50" stroke="#1a1a1a" stroke-width="1.1" />
<line x1="141.50" y1="535.00" x2="141.50" y2="538.20" stroke="#1a1a1a" stroke-width="1.0" />
<line x1="198.50" y1="535.00" x2="198.50" y2="538.20" stroke="#1a1a1a" stroke-width="1.0" />
<line x1="255.50" y1="535.00" x2="255.50" y2="538.20" stroke="#1a1a1a" stroke-width="1.0" />
<line x1="84.50" y1="537.80" x2="84.50" y2="575.40" stroke="#3a3a3a" stroke-width="0.95" stroke-dasharray="1.2 1.8 3.6 1.9"/>
<line x1="198.50" y1="537.80" x2="198.50" y2="575.40" stroke="#3a3a3a" stroke-width="0.95" stroke-dasharray="1.2 1.8 3.6 1.9"/>
<line x1="312.50" y1="537.80" x2="312.50" y2="575.40" stroke="#3a3a3a" stroke-width="0.95" stroke-dasharray="1.2 1.8 3.6 1.9"/>
<text x="112.98" y="553.80" font-size="11.3" text-anchor="middle" font-weight="normal" >CM</text>
<text x="171.93" y="553.80" font-size="11.3" text-anchor="middle" font-weight="normal" >RP</text>
<text x="227.18" y="553.80" font-size="11.3" text-anchor="middle" font-weight="normal" >CM</text>
<text x="284.93" y="553.80" font-size="11.3" text-anchor="middle" font-weight="normal" >RP</text>
<text x="106.70" y="571.00" font-size="11.7" text-anchor="start" font-weight="normal" textLength="74.5" lengthAdjust="spacing">Single cropping</text>
<text x="225.40" y="573.00" font-size="11.7" text-anchor="start" font-weight="normal" textLength="64" lengthAdjust="spacing">Intercropping</text>
<line x1="84.50" y1="392.80" x2="84.50" y2="535.00" stroke="#1a1a1a" stroke-width="1.1" />
<line x1="80.00" y1="535.50" x2="84.00" y2="535.50" stroke="#1a1a1a" stroke-width="1.0" />
<text x="71.00" y="538.90" font-size="11.4" text-anchor="end" font-weight="normal" >0.00</text>
<line x1="80.00" y1="509.50" x2="84.00" y2="509.50" stroke="#1a1a1a" stroke-width="1.0" />
<text x="71.00" y="513.10" font-size="11.4" text-anchor="end" font-weight="normal" >0.10</text>
<line x1="80.00" y1="483.50" x2="84.00" y2="483.50" stroke="#1a1a1a" stroke-width="1.0" />
<text x="71.00" y="487.30" font-size="11.4" text-anchor="end" font-weight="normal" >0.20</text>
<line x1="80.00" y1="457.50" x2="84.00" y2="457.50" stroke="#1a1a1a" stroke-width="1.0" />
<text x="71.00" y="461.50" font-size="11.4" text-anchor="end" font-weight="normal" >0.30</text>
<line x1="80.00" y1="431.50" x2="84.00" y2="431.50" stroke="#1a1a1a" stroke-width="1.0" />
<text x="71.00" y="435.70" font-size="11.4" text-anchor="end" font-weight="normal" >0.40</text>
<line x1="80.00" y1="406.50" x2="84.00" y2="406.50" stroke="#1a1a1a" stroke-width="1.0" />
<text x="71.00" y="409.90" font-size="11.4" text-anchor="end" font-weight="normal" >0.50</text>
<text x="90.00" y="407.40" font-size="11.2" text-anchor="start" font-weight="normal" >(e) RFC</text>
<rect x="259.50" y="403.50" width="5.00" height="5.00" fill="#fff" stroke="#3a3a3a" stroke-width="1.3"/>
<text x="265.00" y="409.50" font-size="10.2" text-anchor="start" font-weight="normal" textLength="14.6" lengthAdjust="spacingAndGlyphs">N0</text>
<rect x="285.50" y="403.50" width="6.00" height="5.00" fill="#06AFF0" stroke="#1e1e1e" stroke-width="1.3"/>
<text x="291.90" y="409.50" font-size="10.2" text-anchor="start" font-weight="normal" textLength="14.6" lengthAdjust="spacingAndGlyphs">N1</text>
<text x="102.00" y="419.60" font-size="11.5" text-anchor="middle" font-weight="normal" >a</text>
<text x="122.00" y="448.60" font-size="11.5" text-anchor="middle" font-weight="normal" >a'</text>
<text x="126.00" y="437.60" font-size="11.5" text-anchor="middle" font-weight="normal" >(**)</text>
<text x="160.60" y="494.00" font-size="11.5" text-anchor="middle" font-weight="normal" >A</text>
<text x="180.00" y="507.00" font-size="11.5" text-anchor="middle" font-weight="normal" >AB'</text>
<text x="179.00" y="490.60" font-size="11.5" text-anchor="middle" font-weight="normal" >(*)</text>
<text x="216.20" y="468.10" font-size="11.5" text-anchor="middle" font-weight="normal" >c</text>
<text x="237.50" y="452.80" font-size="11.5" text-anchor="middle" font-weight="normal" >ab'</text>
<text x="236.50" y="439.30" font-size="11.5" text-anchor="middle" font-weight="normal" >(*)</text>
<text x="274.60" y="499.30" font-size="11.5" text-anchor="middle" font-weight="normal" >AB</text>
<text x="293.20" y="506.70" font-size="11.5" text-anchor="middle" font-weight="normal" >B'</text>
<text x="291.40" y="492.80" font-size="11.5" text-anchor="middle" font-weight="normal" >(*)</text>
<line x1="331.50" y1="420.60" x2="331.50" y2="431.00" stroke="#2e2e2e" stroke-width="1.0" />
<line x1="328.35" y1="420.50" x2="334.55" y2="420.50" stroke="#2e2e2e" stroke-width="1.1" />
<rect x="323.50" y="431.50" width="16.00" height="104.00" fill="#fff" stroke="#3a3a3a" stroke-width="1.25"/>
<line x1="349.50" y1="468.40" x2="349.50" y2="473.30" stroke="#2e2e2e" stroke-width="1.0" />
<line x1="346.85" y1="468.50" x2="353.05" y2="468.50" stroke="#2e2e2e" stroke-width="1.1" />
<rect x="342.50" y="473.50" width="15.00" height="62.00" fill="#06AFF0" stroke="#1e1e1e" stroke-width="1.25"/>
<rect x="381.50" y="514.50" width="15.00" height="21.00" fill="#fff" stroke="#3a3a3a" stroke-width="1.25"/>
<line x1="407.50" y1="509.50" x2="407.50" y2="512.80" stroke="#2e2e2e" stroke-width="1.0" />
<line x1="404.10" y1="509.50" x2="410.30" y2="509.50" stroke="#2e2e2e" stroke-width="1.1" />
<rect x="399.50" y="512.50" width="15.00" height="23.00" fill="#06AFF0" stroke="#1e1e1e" stroke-width="1.25"/>
<line x1="445.50" y1="446.70" x2="445.50" y2="452.00" stroke="#2e2e2e" stroke-width="1.0" />
<line x1="442.80" y1="446.50" x2="449.00" y2="446.50" stroke="#2e2e2e" stroke-width="1.1" />
<rect x="438.50" y="452.50" width="15.00" height="83.00" fill="#fff" stroke="#3a3a3a" stroke-width="1.25"/>
<line x1="464.50" y1="464.40" x2="464.50" y2="469.70" stroke="#2e2e2e" stroke-width="1.0" />
<line x1="461.45" y1="464.50" x2="467.65" y2="464.50" stroke="#2e2e2e" stroke-width="1.1" />
<rect x="457.50" y="469.50" width="15.00" height="66.00" fill="#06AFF0" stroke="#1e1e1e" stroke-width="1.25"/>
<line x1="503.50" y1="499.30" x2="503.50" y2="502.40" stroke="#2e2e2e" stroke-width="1.0" />
<line x1="500.10" y1="499.50" x2="506.30" y2="499.50" stroke="#2e2e2e" stroke-width="1.1" />
<rect x="495.50" y="502.50" width="16.00" height="33.00" fill="#fff" stroke="#3a3a3a" stroke-width="1.25"/>
<line x1="521.50" y1="503.80" x2="521.50" y2="505.60" stroke="#2e2e2e" stroke-width="1.0" />
<line x1="518.65" y1="503.50" x2="524.85" y2="503.50" stroke="#2e2e2e" stroke-width="1.1" />
<rect x="514.50" y="505.50" width="15.00" height="30.00" fill="#06AFF0" stroke="#1e1e1e" stroke-width="1.25"/>
<line x1="312.60" y1="392.50" x2="540.70" y2="392.50" stroke="#1a1a1a" stroke-width="1.1" />
<line x1="540.50" y1="392.80" x2="540.50" y2="535.00" stroke="#1a1a1a" stroke-width="1.1" />
<line x1="312.60" y1="535.50" x2="540.70" y2="535.50" stroke="#1a1a1a" stroke-width="1.1" />
<line x1="369.50" y1="535.00" x2="369.50" y2="538.20" stroke="#1a1a1a" stroke-width="1.0" />
<line x1="426.50" y1="535.00" x2="426.50" y2="538.20" stroke="#1a1a1a" stroke-width="1.0" />
<line x1="483.50" y1="535.00" x2="483.50" y2="538.20" stroke="#1a1a1a" stroke-width="1.0" />
<line x1="312.50" y1="537.80" x2="312.50" y2="575.40" stroke="#3a3a3a" stroke-width="0.95" stroke-dasharray="1.2 1.8 3.6 1.9"/>
<line x1="426.50" y1="537.80" x2="426.50" y2="575.40" stroke="#3a3a3a" stroke-width="0.95" stroke-dasharray="1.2 1.8 3.6 1.9"/>
<line x1="540.50" y1="537.80" x2="540.50" y2="575.40" stroke="#3a3a3a" stroke-width="0.95" stroke-dasharray="1.2 1.8 3.6 1.9"/>
<text x="341.51" y="553.80" font-size="11.3" text-anchor="middle" font-weight="normal" >CM</text>
<text x="400.34" y="553.80" font-size="11.3" text-anchor="middle" font-weight="normal" >RP</text>
<text x="455.46" y="553.80" font-size="11.3" text-anchor="middle" font-weight="normal" >CM</text>
<text x="513.09" y="553.80" font-size="11.3" text-anchor="middle" font-weight="normal" >RP</text>
<text x="335.50" y="573.70" font-size="11.7" text-anchor="start" font-weight="normal" textLength="74" lengthAdjust="spacing">Single cropping</text>
<text x="455.80" y="571.30" font-size="11.7" text-anchor="start" font-weight="normal" textLength="64" lengthAdjust="spacing">Intercropping</text>
<line x1="312.50" y1="392.80" x2="312.50" y2="535.00" stroke="#1a1a1a" stroke-width="1.1" />
<text x="319.40" y="406.20" font-size="11.2" text-anchor="start" font-weight="normal" >(f) RMC</text>
<rect x="485.50" y="402.50" width="5.00" height="5.00" fill="#fff" stroke="#3a3a3a" stroke-width="1.3"/>
<text x="491.30" y="408.60" font-size="10.2" text-anchor="start" font-weight="normal" textLength="14.6" lengthAdjust="spacingAndGlyphs">N0</text>
<rect x="511.50" y="402.50" width="6.00" height="5.00" fill="#06AFF0" stroke="#1e1e1e" stroke-width="1.3"/>
<text x="517.90" y="408.60" font-size="10.2" text-anchor="start" font-weight="normal" textLength="14.6" lengthAdjust="spacingAndGlyphs">N1</text>
<text x="331.40" y="416.60" font-size="11.5" text-anchor="middle" font-weight="normal" >a</text>
<text x="351.00" y="466.00" font-size="11.5" text-anchor="middle" font-weight="normal" >b'</text>
<text x="351.40" y="451.60" font-size="11.5" text-anchor="middle" font-weight="normal" >(*)</text>
<text x="388.60" y="506.60" font-size="11.5" text-anchor="middle" font-weight="normal" >B</text>
<text x="408.00" y="505.60" font-size="11.5" text-anchor="middle" font-weight="normal" >AB'</text>
<text x="407.40" y="489.60" font-size="11.5" text-anchor="middle" font-weight="normal" >(ns)</text>
<text x="445.00" y="442.60" font-size="11.5" text-anchor="middle" font-weight="normal" >b</text>
<text x="466.00" y="462.00" font-size="11.5" text-anchor="middle" font-weight="normal" >b'</text>
<text x="466.00" y="451.60" font-size="11.5" text-anchor="middle" font-weight="normal" >(ns)</text>
<text x="501.00" y="494.00" font-size="11.5" text-anchor="middle" font-weight="normal" >A</text>
<text x="522.40" y="498.60" font-size="11.5" text-anchor="middle" font-weight="normal" >A'</text>
<text x="522.40" y="483.60" font-size="11.5" text-anchor="middle" font-weight="normal" >(ns)</text>
<line x1="103.50" y1="703.50" x2="103.50" y2="708.00" stroke="#2e2e2e" stroke-width="1.0" />
<line x1="100.30" y1="703.50" x2="106.50" y2="703.50" stroke="#2e2e2e" stroke-width="1.1" />
<rect x="95.50" y="708.50" width="16.00" height="18.00" fill="#fff" stroke="#3a3a3a" stroke-width="1.25"/>
<line x1="122.50" y1="716.70" x2="122.50" y2="718.50" stroke="#2e2e2e" stroke-width="1.0" />
<line x1="118.90" y1="716.50" x2="125.10" y2="716.50" stroke="#2e2e2e" stroke-width="1.1" />
<rect x="114.50" y="718.50" width="15.00" height="8.00" fill="#06AFF0" stroke="#1e1e1e" stroke-width="1.25"/>
<line x1="160.50" y1="642.40" x2="160.50" y2="649.20" stroke="#2e2e2e" stroke-width="1.0" />
<line x1="157.80" y1="642.50" x2="164.00" y2="642.50" stroke="#2e2e2e" stroke-width="1.1" />
<rect x="153.50" y="649.50" width="15.00" height="77.00" fill="#fff" stroke="#3a3a3a" stroke-width="1.25"/>
<line x1="179.50" y1="630.00" x2="179.50" y2="637.60" stroke="#2e2e2e" stroke-width="1.0" />
<line x1="176.20" y1="630.50" x2="182.40" y2="630.50" stroke="#2e2e2e" stroke-width="1.1" />
<rect x="172.50" y="637.50" width="14.00" height="89.00" fill="#06AFF0" stroke="#1e1e1e" stroke-width="1.25"/>
<rect x="210.50" y="719.50" width="15.00" height="7.00" fill="#fff" stroke="#3a3a3a" stroke-width="1.25"/>
<line x1="236.50" y1="720.50" x2="236.50" y2="721.40" stroke="#2e2e2e" stroke-width="1.0" />
<line x1="233.25" y1="720.50" x2="239.45" y2="720.50" stroke="#2e2e2e" stroke-width="1.1" />
<rect x="228.50" y="721.50" width="15.00" height="5.00" fill="#06AFF0" stroke="#1e1e1e" stroke-width="1.25"/>
<line x1="275.50" y1="647.60" x2="275.50" y2="657.70" stroke="#2e2e2e" stroke-width="1.0" />
<line x1="272.00" y1="647.50" x2="278.20" y2="647.50" stroke="#2e2e2e" stroke-width="1.1" />
<rect x="267.50" y="657.50" width="15.00" height="69.00" fill="#fff" stroke="#3a3a3a" stroke-width="1.25"/>
<line x1="293.50" y1="656.20" x2="293.50" y2="663.20" stroke="#2e2e2e" stroke-width="1.0" />
<line x1="290.80" y1="656.50" x2="297.00" y2="656.50" stroke="#2e2e2e" stroke-width="1.1" />
<rect x="286.50" y="663.50" width="15.00" height="63.00" fill="#06AFF0" stroke="#1e1e1e" stroke-width="1.25"/>
<line x1="84.80" y1="584.50" x2="312.50" y2="584.50" stroke="#1a1a1a" stroke-width="1.1" />
<line x1="312.50" y1="584.30" x2="312.50" y2="726.30" stroke="#1a1a1a" stroke-width="1.1" />
<line x1="84.80" y1="726.50" x2="312.50" y2="726.50" stroke="#1a1a1a" stroke-width="1.1" />
<line x1="141.50" y1="726.30" x2="141.50" y2="729.50" stroke="#1a1a1a" stroke-width="1.0" />
<line x1="198.50" y1="726.30" x2="198.50" y2="729.50" stroke="#1a1a1a" stroke-width="1.0" />
<line x1="255.50" y1="726.30" x2="255.50" y2="729.50" stroke="#1a1a1a" stroke-width="1.0" />
<line x1="84.50" y1="729.10" x2="84.50" y2="761.30" stroke="#3a3a3a" stroke-width="0.95" stroke-dasharray="1.2 1.8 3.6 1.9"/>
<line x1="198.50" y1="729.10" x2="198.50" y2="761.30" stroke="#3a3a3a" stroke-width="0.95" stroke-dasharray="1.2 1.8 3.6 1.9"/>
<line x1="312.50" y1="729.10" x2="312.50" y2="761.30" stroke="#3a3a3a" stroke-width="0.95" stroke-dasharray="1.2 1.8 3.6 1.9"/>
<text x="113.66" y="744.80" font-size="11.3" text-anchor="middle" font-weight="normal" >CM</text>
<text x="172.39" y="744.80" font-size="11.3" text-anchor="middle" font-weight="normal" >RP</text>
<text x="227.41" y="744.80" font-size="11.3" text-anchor="middle" font-weight="normal" >CM</text>
<text x="284.94" y="744.80" font-size="11.3" text-anchor="middle" font-weight="normal" >RP</text>
<text x="105.60" y="760.00" font-size="11.7" text-anchor="start" font-weight="normal" textLength="74.5" lengthAdjust="spacing">Single cropping</text>
<text x="224.50" y="759.50" font-size="11.7" text-anchor="start" font-weight="normal" textLength="64" lengthAdjust="spacing">Intercropping</text>
<line x1="84.50" y1="584.30" x2="84.50" y2="726.30" stroke="#1a1a1a" stroke-width="1.1" />
<line x1="80.80" y1="726.50" x2="84.80" y2="726.50" stroke="#1a1a1a" stroke-width="1.0" />
<text x="71.00" y="730.20" font-size="11.4" text-anchor="end" font-weight="normal" >0</text>
<line x1="80.80" y1="694.50" x2="84.80" y2="694.50" stroke="#1a1a1a" stroke-width="1.0" />
<text x="71.00" y="698.63" font-size="11.4" text-anchor="end" font-weight="normal" >10</text>
<line x1="80.80" y1="663.50" x2="84.80" y2="663.50" stroke="#1a1a1a" stroke-width="1.0" />
<text x="71.00" y="667.06" font-size="11.4" text-anchor="end" font-weight="normal" >20</text>
<line x1="80.80" y1="631.50" x2="84.80" y2="631.50" stroke="#1a1a1a" stroke-width="1.0" />
<text x="71.00" y="635.49" font-size="11.4" text-anchor="end" font-weight="normal" >30</text>
<line x1="80.80" y1="600.50" x2="84.80" y2="600.50" stroke="#1a1a1a" stroke-width="1.0" />
<text x="71.00" y="603.92" font-size="11.4" text-anchor="end" font-weight="normal" >40</text>
<text x="88.90" y="596.60" font-size="11.2" text-anchor="start" font-weight="normal" >(g) RFC</text>
<rect x="262.50" y="593.50" width="5.00" height="5.00" fill="#fff" stroke="#3a3a3a" stroke-width="1.3"/>
<text x="268.50" y="599.50" font-size="10.2" text-anchor="start" font-weight="normal" textLength="14.6" lengthAdjust="spacingAndGlyphs">N0</text>
<rect x="289.50" y="593.50" width="5.00" height="5.00" fill="#06AFF0" stroke="#1e1e1e" stroke-width="1.3"/>
<text x="295.10" y="599.50" font-size="10.2" text-anchor="start" font-weight="normal" textLength="14.6" lengthAdjust="spacingAndGlyphs">N1</text>
<text x="104.00" y="696.00" font-size="11.5" text-anchor="middle" font-weight="normal" >a</text>
<text x="122.60" y="712.00" font-size="11.5" text-anchor="middle" font-weight="normal" >b'</text>
<text x="123.00" y="701.20" font-size="11.5" text-anchor="middle" font-weight="normal" >(ns)</text>
<text x="160.60" y="637.60" font-size="11.5" text-anchor="middle" font-weight="normal" >A</text>
<text x="181.00" y="623.00" font-size="11.5" text-anchor="middle" font-weight="normal" >AB'</text>
<text x="182.00" y="610.60" font-size="11.5" text-anchor="middle" font-weight="normal" >(ns)</text>
<text x="218.30" y="713.70" font-size="11.5" text-anchor="middle" font-weight="normal" >b</text>
<text x="236.00" y="716.40" font-size="11.5" text-anchor="middle" font-weight="normal" >c'</text>
<text x="235.40" y="705.70" font-size="11.5" text-anchor="middle" font-weight="normal" >(*)</text>
<text x="273.60" y="641.70" font-size="11.5" text-anchor="middle" font-weight="normal" >AB</text>
<text x="294.30" y="649.40" font-size="11.5" text-anchor="middle" font-weight="normal" >B'</text>
<text x="295.00" y="637.00" font-size="11.5" text-anchor="middle" font-weight="normal" >(ns)</text>
<line x1="332.50" y1="710.50" x2="332.50" y2="713.30" stroke="#2e2e2e" stroke-width="1.0" />
<line x1="329.20" y1="710.50" x2="335.40" y2="710.50" stroke="#2e2e2e" stroke-width="1.1" />
<rect x="324.50" y="713.50" width="16.00" height="13.00" fill="#fff" stroke="#3a3a3a" stroke-width="1.25"/>
<line x1="350.50" y1="717.00" x2="350.50" y2="717.50" stroke="#2e2e2e" stroke-width="1.0" />
<line x1="347.80" y1="717.50" x2="354.00" y2="717.50" stroke="#2e2e2e" stroke-width="1.1" />
<rect x="343.50" y="717.50" width="15.00" height="9.00" fill="#06AFF0" stroke="#1e1e1e" stroke-width="1.25"/>
<line x1="389.50" y1="671.80" x2="389.50" y2="676.30" stroke="#2e2e2e" stroke-width="1.0" />
<line x1="386.25" y1="671.50" x2="392.45" y2="671.50" stroke="#2e2e2e" stroke-width="1.1" />
<rect x="381.50" y="676.50" width="16.00" height="50.00" fill="#fff" stroke="#3a3a3a" stroke-width="1.25"/>
<line x1="408.50" y1="626.50" x2="408.50" y2="635.10" stroke="#2e2e2e" stroke-width="1.0" />
<line x1="405.00" y1="626.50" x2="411.20" y2="626.50" stroke="#2e2e2e" stroke-width="1.1" />
<rect x="400.50" y="635.50" width="15.00" height="91.00" fill="#06AFF0" stroke="#1e1e1e" stroke-width="1.25"/>
<line x1="446.50" y1="715.00" x2="446.50" y2="716.70" stroke="#2e2e2e" stroke-width="1.0" />
<line x1="443.30" y1="715.50" x2="449.50" y2="715.50" stroke="#2e2e2e" stroke-width="1.1" />
<rect x="438.50" y="716.50" width="16.00" height="10.00" fill="#fff" stroke="#3a3a3a" stroke-width="1.25"/>
<rect x="457.50" y="718.50" width="15.00" height="8.00" fill="#06AFF0" stroke="#1e1e1e" stroke-width="1.25"/>
<line x1="503.50" y1="647.30" x2="503.50" y2="656.20" stroke="#2e2e2e" stroke-width="1.0" />
<line x1="500.45" y1="647.50" x2="506.65" y2="647.50" stroke="#2e2e2e" stroke-width="1.1" />
<rect x="495.50" y="656.50" width="16.00" height="70.00" fill="#fff" stroke="#3a3a3a" stroke-width="1.25"/>
<line x1="522.50" y1="619.50" x2="522.50" y2="627.20" stroke="#2e2e2e" stroke-width="1.0" />
<line x1="519.25" y1="619.50" x2="525.45" y2="619.50" stroke="#2e2e2e" stroke-width="1.1" />
<rect x="514.50" y="627.50" width="16.00" height="99.00" fill="#06AFF0" stroke="#1e1e1e" stroke-width="1.25"/>
<line x1="312.50" y1="584.50" x2="540.90" y2="584.50" stroke="#1a1a1a" stroke-width="1.1" />
<line x1="540.50" y1="584.30" x2="540.50" y2="726.30" stroke="#1a1a1a" stroke-width="1.1" />
<line x1="312.50" y1="726.50" x2="540.90" y2="726.50" stroke="#1a1a1a" stroke-width="1.1" />
<line x1="369.50" y1="726.30" x2="369.50" y2="729.50" stroke="#1a1a1a" stroke-width="1.0" />
<line x1="426.50" y1="726.30" x2="426.50" y2="729.50" stroke="#1a1a1a" stroke-width="1.0" />
<line x1="483.50" y1="726.30" x2="483.50" y2="729.50" stroke="#1a1a1a" stroke-width="1.0" />
<line x1="312.50" y1="729.10" x2="312.50" y2="761.30" stroke="#3a3a3a" stroke-width="0.95" stroke-dasharray="1.2 1.8 3.6 1.9"/>
<line x1="426.50" y1="729.10" x2="426.50" y2="761.30" stroke="#3a3a3a" stroke-width="0.95" stroke-dasharray="1.2 1.8 3.6 1.9"/>
<line x1="540.50" y1="729.10" x2="540.50" y2="761.30" stroke="#3a3a3a" stroke-width="0.95" stroke-dasharray="1.2 1.8 3.6 1.9"/>
<text x="341.45" y="744.80" font-size="11.3" text-anchor="middle" font-weight="normal" >CM</text>
<text x="400.35" y="744.80" font-size="11.3" text-anchor="middle" font-weight="normal" >RP</text>
<text x="455.55" y="744.80" font-size="11.3" text-anchor="middle" font-weight="normal" >CM</text>
<text x="513.25" y="744.80" font-size="11.3" text-anchor="middle" font-weight="normal" >RP</text>
<text x="331.00" y="758.20" font-size="11.7" text-anchor="start" font-weight="normal" textLength="74.6" lengthAdjust="spacing">Single cropping</text>
<text x="454.40" y="759.50" font-size="11.7" text-anchor="start" font-weight="normal" textLength="63.6" lengthAdjust="spacing">Intercropping</text>
<line x1="312.50" y1="584.30" x2="312.50" y2="726.30" stroke="#1a1a1a" stroke-width="1.1" />
<text x="318.00" y="597.20" font-size="11.2" text-anchor="start" font-weight="normal" >(h) RMC</text>
<rect x="457.50" y="592.50" width="5.00" height="6.00" fill="#fff" stroke="#3a3a3a" stroke-width="1.3"/>
<text x="463.50" y="599.10" font-size="10.2" text-anchor="start" font-weight="normal" textLength="14.6" lengthAdjust="spacingAndGlyphs">N0</text>
<rect x="484.50" y="592.50" width="5.00" height="6.00" fill="#06AFF0" stroke="#1e1e1e" stroke-width="1.3"/>
<text x="490.30" y="599.10" font-size="10.2" text-anchor="start" font-weight="normal" textLength="14.6" lengthAdjust="spacingAndGlyphs">N1</text>
<text x="332.60" y="703.00" font-size="11.5" text-anchor="middle" font-weight="normal" >a</text>
<text x="351.00" y="710.60" font-size="11.5" text-anchor="middle" font-weight="normal" >a'</text>
<text x="351.00" y="699.60" font-size="11.5" text-anchor="middle" font-weight="normal" >(ns)</text>
<text x="389.00" y="666.00" font-size="11.5" text-anchor="middle" font-weight="normal" >B</text>
<text x="408.00" y="619.60" font-size="11.5" text-anchor="middle" font-weight="normal" >AB'</text>
<text x="408.00" y="606.60" font-size="11.5" text-anchor="middle" font-weight="normal" >(*)</text>
<text x="444.60" y="710.00" font-size="11.5" text-anchor="middle" font-weight="normal" >b</text>
<text x="467.20" y="715.00" font-size="11.5" text-anchor="middle" font-weight="normal" >bc'</text>
<text x="467.20" y="701.30" font-size="11.5" text-anchor="middle" font-weight="normal" >(ns)</text>
<text x="503.20" y="642.50" font-size="11.5" text-anchor="middle" font-weight="normal" >AB</text>
<text x="523.00" y="616.40" font-size="11.5" text-anchor="middle" font-weight="normal" >A'</text>
<text x="522.40" y="602.40" font-size="11.5" text-anchor="middle" font-weight="normal" >(ns)</text>
<rect x="536" y="80.5" width="10" height="9.5" fill="#fff"/>
<line x1="535.60" y1="84.60" x2="545.80" y2="77.70" stroke="#1a1a1a" stroke-width="1.0" />
<line x1="535.10" y1="93.40" x2="545.80" y2="86.50" stroke="#1a1a1a" stroke-width="1.0" />
<line x1="78.20" y1="87.50" x2="88.00" y2="80.20" stroke="#1a1a1a" stroke-width="1.0" />
<line x1="78.50" y1="95.50" x2="88.00" y2="89.30" stroke="#1a1a1a" stroke-width="1.0" />
<path d="M222.3 47.9 H226.2 V52.2 H224.4 V50.1 H222.3 Z" fill="#111"/>
<text transform="translate(17.40,118.55) rotate(-90)" x="0" y="0" font-size="10.9" font-weight="bold" text-anchor="start" textLength="63.90" lengthAdjust="spacingAndGlyphs" style="stroke-width:0.3px">Aboveground</text>
<text transform="translate(17.40,50.85) rotate(-90)" x="0" y="0" font-size="10.9" font-weight="bold" text-anchor="start" textLength="34.30" lengthAdjust="spacingAndGlyphs" style="stroke-width:0.3px">biomass</text>
<text transform="translate(19.00,331.35) rotate(-90)" x="0" y="0" font-size="10.9" font-weight="bold" text-anchor="start" textLength="62.50" lengthAdjust="spacingAndGlyphs" style="stroke-width:0.3px">Belowground</text>
<text transform="translate(19.00,260.85) rotate(-90)" x="0" y="0" font-size="10.9" font-weight="bold" text-anchor="start" textLength="36.60" lengthAdjust="spacingAndGlyphs" style="stroke-width:0.3px">biomass</text>
<text transform="translate(21.70,523.65) rotate(-90)" x="0" y="0" font-size="11" font-weight="bold" text-anchor="start" textLength="55.00" lengthAdjust="spacingAndGlyphs" style="stroke-width:0.3px">Root–shoot</text>
<text transform="translate(21.70,461.45) rotate(-90)" x="0" y="0" font-size="11" font-weight="bold" text-anchor="start" textLength="22.10" lengthAdjust="spacingAndGlyphs" style="stroke-width:0.3px">ratio</text>
<text transform="translate(27.70,704.65) rotate(-90)" x="0" y="0" font-size="11" font-weight="bold" text-anchor="start" textLength="23.60" lengthAdjust="spacingAndGlyphs" style="stroke-width:0.3px">Total</text>
<text transform="translate(27.70,675.75) rotate(-90)" x="0" y="0" font-size="11" font-weight="bold" text-anchor="start" textLength="20.00" lengthAdjust="spacingAndGlyphs" style="stroke-width:0.3px">root</text>
<text transform="translate(27.70,651.25) rotate(-90)" x="0" y="0" font-size="11" font-weight="bold" text-anchor="start" textLength="30.50" lengthAdjust="spacingAndGlyphs" style="stroke-width:0.3px">length</text>
<text transform="translate(34.80,69.20) rotate(-90)" x="0" y="0" font-size="11" font-weight="bold" text-anchor="middle" style="stroke-width:0.3px" >(g plant<tspan font-size="7.5" dy="-4">−1</tspan><tspan dy="4">)</tspan></text>
<text transform="translate(36.40,271.50) rotate(-90)" x="0" y="0" font-size="11" font-weight="bold" text-anchor="middle" style="stroke-width:0.3px" >(g plant<tspan font-size="7.5" dy="-4">−1</tspan><tspan dy="4">)</tspan></text>
<text transform="translate(36.40,480.70) rotate(-90)" x="0" y="0" font-size="11" font-weight="bold" text-anchor="middle" style="stroke-width:0.3px" >(g g<tspan font-size="7.5" dy="-4">−1</tspan><tspan dy="4">)</tspan></text>
<text transform="translate(43.80,658.30) rotate(-90)" x="0" y="0" font-size="11" font-weight="bold" text-anchor="middle" style="stroke-width:0.3px" >(g plant<tspan font-size="7.5" dy="-4">−1</tspan><tspan dy="4">)</tspan></text>
</svg>
</body></html>
